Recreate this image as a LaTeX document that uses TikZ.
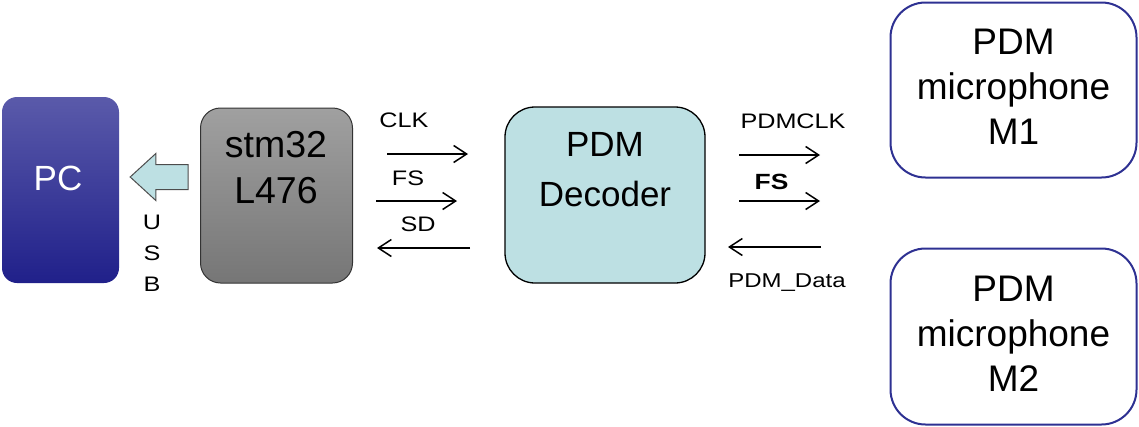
\documentclass[tikz,border=0pt]{standalone}
\usepackage{fontspec}
\setmainfont{Liberation Sans}
\newfontfamily\sigfont[FakeStretch=1.2]{Liberation Sans}
\usetikzlibrary{arrows.meta,shapes.arrows,positioning}
\definecolor{pcTop}{RGB}{90,90,170}
\definecolor{pcBot}{RGB}{32,32,138}
\definecolor{chipTop}{RGB}{160,160,160}
\definecolor{chipBot}{RGB}{118,118,118}
\definecolor{decFill}{RGB}{189,224,227}
\definecolor{micLine}{RGB}{46,49,146}

\begin{document}
\begin{tikzpicture}[x=1pt,y=-1pt,
	box/.style={rectangle,inner sep=0pt},
	bigtxt/.style={font=\fontsize{35}{46}\selectfont,align=center,inner sep=0pt},
	mictxt/.style={font=\fontsize{37}{45}\selectfont,align=center,inner sep=0pt},
	sig/.style={font=\sigfont\fontsize{21}{24}\selectfont,inner sep=0pt,anchor=base},
	wire/.style={line width=1.5pt,-{Straight Barb[length=13pt,width=17pt,line width=1.5pt]}}]
\useasboundingbox (0,0) rectangle (1139,426);

\node[box,rounded corners=15pt,minimum width=117pt,minimum height=186pt,top color=pcTop,bottom color=pcBot] (pc) at (60.5,190) {};
\node[box,rounded corners=20pt,minimum width=152pt,minimum height=175pt,draw=black!80,line width=1pt,top color=chipTop,bottom color=chipBot] (stm) at (276.5,195.5) {};
\node[box,rounded corners=30pt,minimum width=200pt,minimum height=176pt,draw=black,line width=1.3pt,fill=decFill] (dec) at (605,195) {};
\node[box,rounded corners=35pt,minimum width=246pt,minimum height=175pt,draw=micLine,line width=2pt] (mic1) at (1013.5,90) {};
\node[box,rounded corners=35pt,minimum width=246pt,minimum height=176pt,draw=micLine,line width=2pt] (mic2) at (1013.5,336.5) {};

\node[bigtxt,text=white,anchor=base] (pctext) at (58,190) {PC};
\node[bigtxt,font=\fontsize{37.5}{46}\selectfont] (stmtext) at (276,168) {stm32\\L476};
\node[bigtxt,font=\fontsize{35}{50}\selectfont] (dectext) at (605,169.5) {PDM\\Decoder};
\node[mictxt] (mic1text) at (1013.5,86.5) {PDM\\microphone\\M1};
\node[mictxt] (mic2text) at (1013.5,333.5) {PDM\\microphone\\M2};

\node[single arrow,shape border rotate=180,draw=black!70,line width=1pt,fill=decFill,inner sep=0pt,
	minimum height=58pt,minimum width=46pt,single arrow head extend=11pt,single arrow tip angle=85] (usb) at (166,177) {\rule{0pt}{24pt}};
\node[font=\sigfont\fontsize{21}{31}\selectfont,align=center,inner sep=0pt] (usbtext) at (152,253.5) {U\\S\\B};

\coordinate (clkA) at (387,154);  \coordinate (clkB) at (468,154);
\coordinate (fsA) at (376,201);   \coordinate (fsB) at (457,201);
\coordinate (sdA) at (470,248);   \coordinate (sdB) at (377,248);
\coordinate (pclkA) at (739,155); \coordinate (pclkB) at (820,155);
\coordinate (pfsA) at (739,201);  \coordinate (pfsB) at (820,201);
\coordinate (pdatA) at (821,247); \coordinate (pdatB) at (728,247);

\draw[wire] (clkA) -- (clkB);
\draw[wire] (fsA) -- (fsB);
\draw[wire] (sdA) -- (sdB);
\draw[wire] (pclkA) -- (pclkB);
\draw[wire] (pfsA) -- (pfsB);
\draw[wire] (pdatA) -- (pdatB);

\node[sig] (clk) at (404,127) {CLK};
\node[sig] (fs) at (408,185) {FS};
\node[sig] (sd) at (418,231) {SD};
\node[sig] (pdmclk) at (793,128) {PDMCLK};
\node[sig,font=\sigfont\fontsize{22}{24}\selectfont\bfseries] (pfs) at (771.5,189) {FS};
\node[sig,font=\sigfont\fontsize{20}{24}\selectfont] (pdmdata) at (787,287) {PDM\_Data};

\end{tikzpicture}
\end{document}
